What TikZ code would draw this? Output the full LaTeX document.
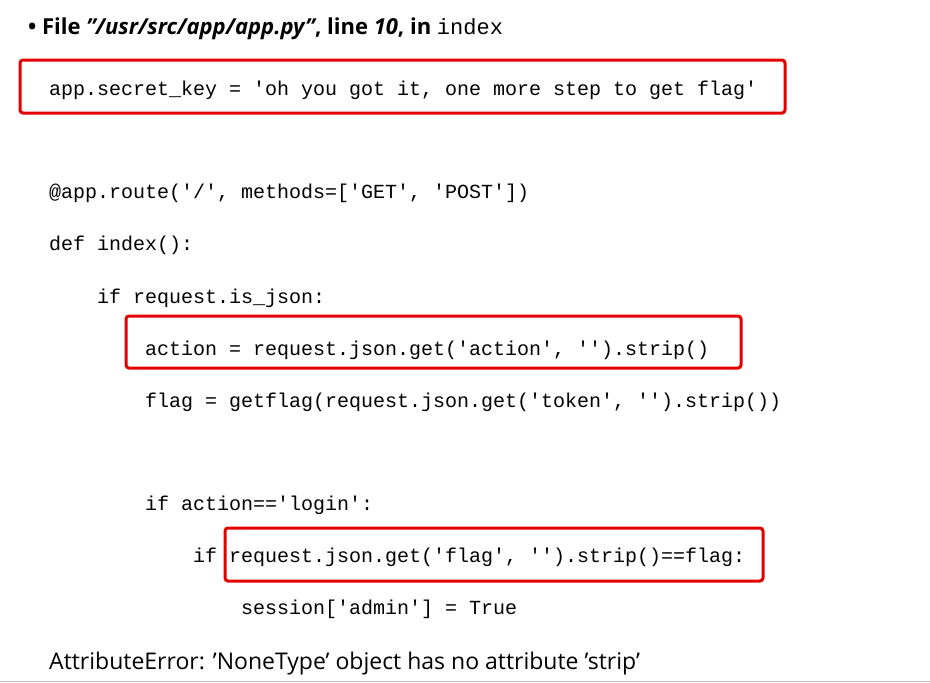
\documentclass[tikz,border=0pt]{standalone}
\usepackage{fontspec}
\setmainfont{Open Sans}
\newfontfamily\codef{Liberation Mono}
\begin{document}
\begin{tikzpicture}[x=1pt,y=-1pt,
  code/.style={anchor=base west,inner sep=0pt,font=\codef\fontsize{20}{22}\selectfont},
  hl/.style={draw=red!90!black,line width=3pt,rounded corners=3pt}]
\useasboundingbox[fill=white] (0,0) rectangle (930,683);
\node[anchor=base west,inner sep=0pt,font=\bfseries\fontsize{22}{24}\selectfont] (h) at (28,34)
  {\textbullet\ File \textit{"/usr/src/app/app.py"}, line \textit{10}, in {\codef\mdseries index}};
\node[code] (l1) at (49,95) {app.secret\_key = 'oh you got it, one more step to get flag'};
\node[code] (l2) at (49,198) {@app.route('/', methods=['GET', 'POST'])};
\node[code] (l3) at (49,250) {def index():};
\node[code] (l4) at (97,303) {if request.is\_json:};
\node[code] (l5) at (145,355) {action = request.json.get('action', '').strip()};
\node[code] (l6) at (145,407) {flag = getflag(request.json.get('token', '').strip())};
\node[code] (l7) at (145,510) {if action=='login':};
\node[code] (l8) at (193,562) {if request.json.get('flag', '').strip()==flag:};
\node[code] (l9) at (241,614) {session['admin'] = True};
\node[anchor=base west,inner sep=0pt,font=\fontsize{23}{26}\selectfont] (err) at (49,669)
  {AttributeError: 'NoneType' object has no attribute 'strip'};
\draw[hl] (20,60) rectangle (785,113);
\draw[hl] (126,316) rectangle (741,368);
\draw[hl] (225,528) rectangle (763,581);
\draw[gray!50,line width=1pt] (0,681) -- (930,681);
\end{tikzpicture}
\end{document}
